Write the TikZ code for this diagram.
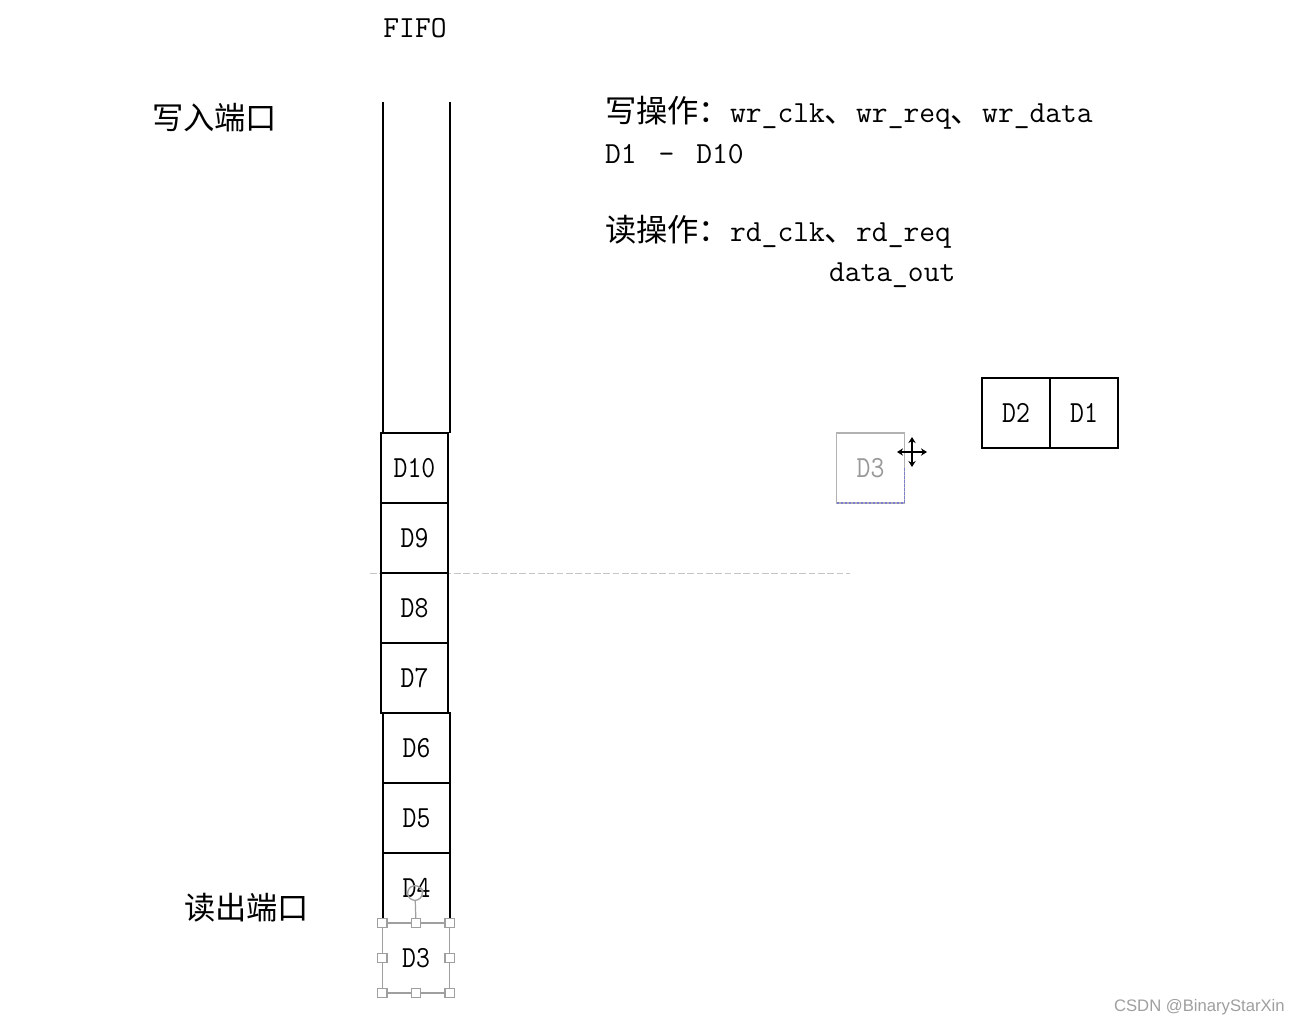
\documentclass[tikz,border=0pt]{standalone}
\usepackage{fontspec}
\usepackage{graphicx}
\newfontfamily\cjk{Noto Sans CJK SC}[Scale=1.02]
\newfontfamily\wmfont{Liberation Sans}
\usetikzlibrary{arrows.meta}
\newcommand\narrowtxt[1]{\scalebox{0.88}[1]{#1}}
\begin{document}
\begin{tikzpicture}[x=0.75pt,y=-0.75pt,
  txt/.style={font=\ttfamily\fontsize{23}{27}\selectfont, inner sep=0pt, outer sep=0pt},
  cjklabel/.style={font=\cjk\fontsize{23}{27}\selectfont, inner sep=0pt, outer sep=0pt},
  cell/.style={draw, line width=1.4pt, minimum width=50.5pt, minimum height=52.5pt,
    inner sep=0pt, outer sep=0pt, font=\ttfamily\fontsize{23}{27}\selectfont},
  handle/.style={draw=gray!75, fill=white, line width=0.8pt, minimum size=7pt, inner sep=0pt},
  tube/.style={line width=1.4pt},
]
\useasboundingbox (0,0) rectangle (1299,1026);
\fill[white] (0,0) rectangle (1299,1026);

% title
\node[txt, anchor=base] (fifo) at (415,37) {FIFO};

% port labels
\node[cjklabel, anchor=west] (wport) at (152,118) {写入端口};
\node[cjklabel, anchor=west] (rport) at (184,908) {读出端口};

% description text
\node[txt, anchor=base west] (l1) at (605,122) {{\cjk 写操作：}wr\_clk{\cjk 、}wr\_req{\cjk 、}wr\_data};
\node[txt, anchor=base west] (l2) at (605,163) {D1\hspace{16.5pt}-\hspace{16.5pt}D10};
\node[txt, anchor=base west] (l3) at (605,241) {{\cjk 读操作：}rd\_clk{\cjk 、}rd\_req};
\node[txt, anchor=base west] (l4) at (829,281) {data\_out};

% dashed guide line
\coordinate (dl) at (370,573);
\coordinate (dr) at (850,573);
\draw[gray!45, dashed, dash pattern=on 5pt off 2pt, line width=0.6pt] (dl) -- (dr);

% FIFO cells
\node[cell] (d10) at (414.5,468) {\narrowtxt{D10}};
\node[cell] (d9)  at (414.5,538) {\narrowtxt{D9}};
\node[cell] (d8)  at (414.5,608) {\narrowtxt{D8}};
\node[cell] (d7)  at (414.5,678) {\narrowtxt{D7}};
\node[cell] (d6)  at (416.5,748) {\narrowtxt{D6}};
\node[cell] (d5)  at (416.5,818) {\narrowtxt{D5}};
\node[cell, draw=none] (d4) at (416.5,888) {\narrowtxt{D4}};
\draw[line width=1.4pt] (d4.south west) -- (d4.north west) -- (d4.north east) -- (d4.south east);

% tube walls
\coordinate (tl) at (383,102);
\coordinate (tr) at (450,102);
\draw[tube] (tl) -- (tl |- d10.north);
\draw[tube] (tr) -- (tr |- d10.north);

% selected D3 at bottom
\node[minimum width=50.5pt, minimum height=52.5pt, inner sep=0pt, outer sep=0pt,
  draw=gray!75, line width=0.9pt, font=\ttfamily\fontsize{23}{27}\selectfont] (d3) at (416,958) {\narrowtxt{D3}};
\node[handle] (h1) at (d3.north west) {};
\node[handle] (h2) at (d3.north) {};
\node[handle] (h3) at (d3.north east) {};
\node[handle] (h4) at (d3.east) {};
\node[handle] (h5) at (d3.south east) {};
\node[handle] (h6) at (d3.south) {};
\node[handle] (h7) at (d3.south west) {};
\node[handle] (h8) at (d3.west) {};
\node[circle, draw=gray!75, line width=1pt, minimum size=11pt, inner sep=0pt] (rot) at (415,893) {};
\draw[gray!75, line width=0.9pt] (rot) -- (h2);
\draw[gray!75, line width=0.9pt, -{Stealth[length=3pt]}] (rot.north east) -- ++(3,5);

% floating D3 being dragged
\node[minimum width=50.5pt, minimum height=52.5pt, inner sep=0pt, outer sep=0pt,
  draw=gray!60, line width=0.8pt, text=gray!80, font=\ttfamily\fontsize{23}{27}\selectfont] (f3) at (870.5,468) {\narrowtxt{D3}};
\draw[blue!45!gray!70, dashed, dash pattern=on 2pt off 1pt, line width=0.9pt] (f3.east) -- (f3.south east) -- (f3.south west);

% move cursor
\coordinate (mv) at (912,452);
\draw[line width=1.2pt, -{Stealth[length=4.5pt,width=5.5pt]}] (mv) -- ++(0,-15);
\draw[line width=1.2pt, -{Stealth[length=4.5pt,width=5.5pt]}] (mv) -- ++(0,15);
\draw[line width=1.2pt, -{Stealth[length=4.5pt,width=5.5pt]}] (mv) -- ++(-15,0);
\draw[line width=1.2pt, -{Stealth[length=4.5pt,width=5.5pt]}] (mv) -- ++(15,0);

% D2 D1 pair
\node[cell] (d2) at (1016,413) {\narrowtxt{D2}};
\node[cell] (d1) at (1084,413) {\narrowtxt{D1}};

% watermark
\node[anchor=east, text=gray!75, font=\wmfont\fontsize{12.5}{14}\selectfont, inner sep=0pt] (wm) at (1285,1007) {CSDN @BinaryStarXin};
\end{tikzpicture}
\end{document}
